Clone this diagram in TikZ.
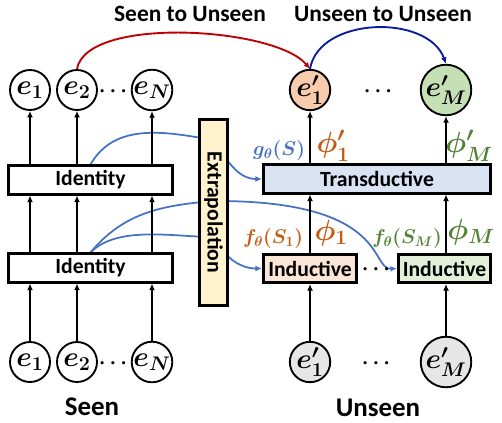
\RequirePackage{fix-cm}
\documentclass[tikz,border=0pt]{standalone}
\usepackage{amsmath}
\usepackage{fontspec}
\setmainfont{Carlito}
\usetikzlibrary{arrows.meta,backgrounds}

\definecolor{orangetxt}{HTML}{C55A11}
\definecolor{greentxt}{HTML}{548235}
\definecolor{bluecurve}{HTML}{4472C4}
\definecolor{redcurve}{HTML}{C00000}
\definecolor{navycurve}{HTML}{0A1E9A}
\definecolor{orangefill}{HTML}{F8CBAD}
\definecolor{greenfill}{HTML}{C5E0B4}
\definecolor{grayfill}{HTML}{E7E6E6}
\definecolor{indorange}{HTML}{FBE5D6}
\definecolor{indgreen}{HTML}{E2F0D9}
\definecolor{transblue}{HTML}{DAE3F3}
\definecolor{extrafill}{HTML}{FFF2CC}

\begin{document}
\begin{tikzpicture}[x=0.3mm, y=-0.3mm,
    ent/.style={circle, draw, line width=1.6pt, minimum size=12mm, inner sep=0pt,
      font=\fontsize{24}{28}\selectfont\boldmath},
    blk/.style={draw, line width=2.4pt, minimum height=8.5mm, inner sep=0pt,
      font=\fontsize{18.5}{21}\selectfont\bfseries},
    up/.style={-{Latex[length=5.5pt,width=5pt]}, line width=1.6pt},
    feed/.style={bluecurve, line width=1.5pt, -{Latex[length=5.5pt,width=5pt]}},
    hop/.style={line width=1.6pt, -{Latex[length=5.5pt,width=5pt]}},
    dots/.style={font=\fontsize{18}{20}\selectfont\boldmath},
    phi/.style={font=\fontsize{25}{29}\selectfont\boldmath},
    fn/.style={font=\fontsize{17}{20}\selectfont\boldmath, inner sep=1pt},
    title/.style={font=\fontsize{20}{24}\selectfont\bfseries},
    side/.style={font=\fontsize{23}{27}\selectfont\bfseries}]
  \useasboundingbox (0,0) rectangle (502,422);

  % seen entities
  \node[ent] (s1t) at (30,90) {$e_1$};
  \node[ent] (s2t) at (77,90) {$e_2$};
  \node[ent] (sNt) at (152,90) {$e_N$};
  \node[dots] (sdt) at (115,92) {$\cdots$};
  \node[ent] (s1b) at (30,362) {$e_1$};
  \node[ent] (s2b) at (77,362) {$e_2$};
  \node[ent] (sNb) at (152,362) {$e_N$};
  \node[dots] (sdb) at (115,364) {$\cdots$};
  \node[blk, fill=white, minimum width=49.3mm] (idtop) at (90.5,180) {Identity};
  \node[blk, fill=white, minimum width=49.3mm] (idbot) at (90.5,268) {Identity};
  \node[blk, fill=extrafill, minimum width=8.5mm, minimum height=55.9mm] (extra) at (213.5,212.5)
    {\rotatebox{-90}{Extrapolation}};

  % unseen entities
  \node[ent, fill=orangefill] (u1t) at (310,90) {$e'_1$};
  \node[ent, fill=greenfill] (uMt) at (446,90) {$e'_M$};
  \node[dots] (udt) at (380,92) {$\cdots$};
  \node[ent, fill=grayfill] (u1b) at (310,362) {$e'_1$};
  \node[ent, fill=grayfill] (uMb) at (446,362) {$e'_M$};
  \node[dots] (udb) at (378,364) {$\cdots$};
  \node[blk, fill=transblue, minimum width=68.2mm] (trans) at (377,179) {Transductive};
  \node[blk, fill=indorange, minimum width=28mm] (ind1) at (310,268.5) {Inductive};
  \node[blk, fill=indgreen, minimum width=27.7mm] (indM) at (444.5,268.5) {Inductive};
  \node[dots] (idots) at (378,270) {$\cdots$};

  % labels
  \node[phi, text=orangetxt] (phi1p) at (333,146) {$\phi'_1$};
  \node[phi, text=greentxt] (phiMp) at (469,146) {$\phi'_M$};
  \node[phi, text=orangetxt] (phi1) at (331,233) {$\phi_1$};
  \node[phi, text=greentxt] (phiM) at (471,232) {$\phi_M$};
  \node[fn, text=bluecurve] (gS) at (279,151) {$g_\theta(S)$};
  \node[fn, text=orangetxt] (f1) at (273,239) {$f_\theta(S_1)$};
  \node[fn, text=greentxt] (fM) at (407,239) {$f_\theta(S_M)$};
  \node[title] (s2u) at (190,14) {Seen to Unseen};
  \node[title] (u2u) at (383,14) {Unseen to Unseen};
  \node[side] (seen) at (92,407) {Seen};
  \node[side] (unseen) at (378,408) {Unseen};

  % vertical arrows
  \foreach \e/\f in {s1b/s1t, s2b/s2t, sNb/sNt}{
    \draw[up] (\e.north) -- (\e |- idbot.south);
    \draw[up] (\e |- idbot.north) -- (\e |- idtop.south);
    \draw[up] (\e |- idtop.north) -- (\f.south);
  }
  \draw[up] (u1b.north) -- (u1b |- ind1.south);
  \draw[up] (u1b |- ind1.north) -- (u1b |- trans.south);
  \draw[up] (u1b |- trans.north) -- (u1t.south);
  \draw[up] (uMb.north) -- (uMb |- indM.south);
  \draw[up] (uMb |- indM.north) -- (uMb |- trans.south);
  \draw[up] (uMb |- trans.north) -- (uMt.south);

  % extrapolation feeds
  \begin{scope}[on background layer]
    \coordinate (xa) at (213,140);
    \coordinate (xb) at (213,237);
    \coordinate (xc) at (213,201);
    \draw[feed] (idtop.north) to[out=60,in=170] (xa) to[out=-55,in=180] (trans.west);
    \draw[feed] (idbot.north) to[out=45,in=180,looseness=0.8] (xb) to[out=-60,in=180] (ind1.west);
    \draw[feed] (idbot.north) to[out=50,in=185] (xc) .. controls (390,200) and (370,270) .. (indM.west);
  \end{scope}

  % transfers
  \draw[hop, redcurve] (s2t.north) to[out=80,in=130,looseness=0.6] (u1t.north);
  \draw[hop, navycurve] (u1t.north) to[out=80,in=110] (uMt.north);
\end{tikzpicture}
\end{document}
